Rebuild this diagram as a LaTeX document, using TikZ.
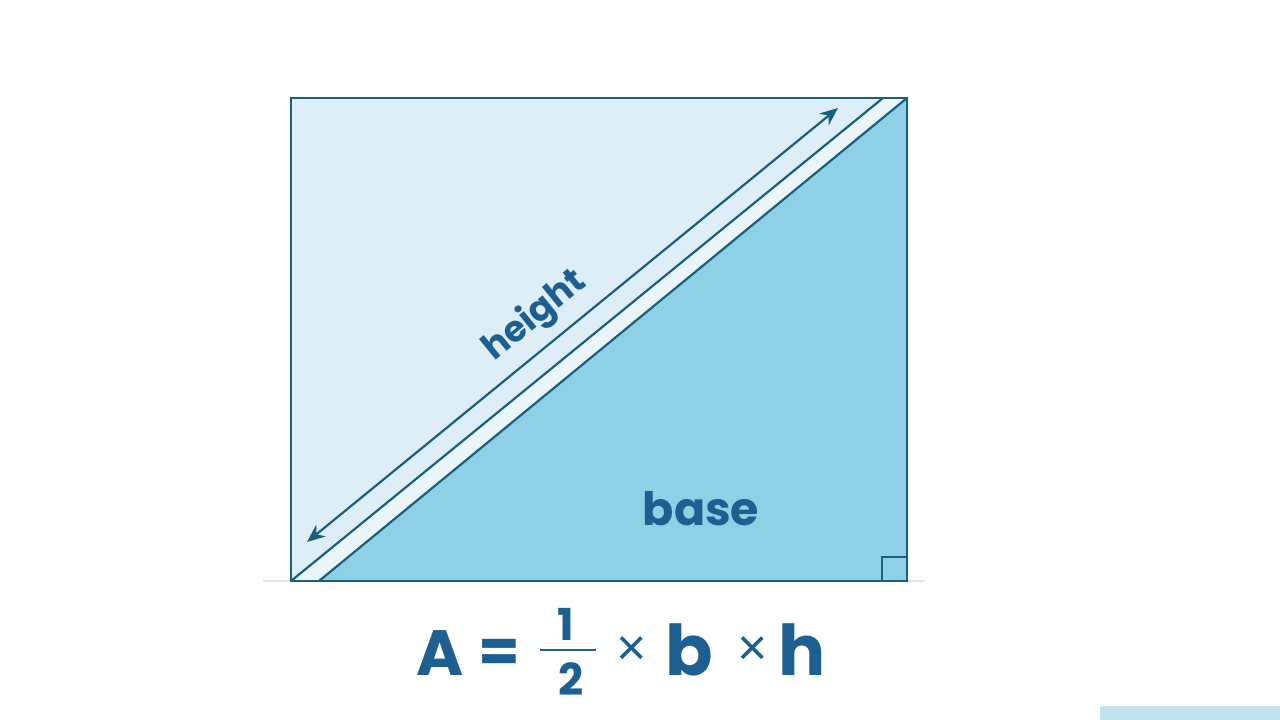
\documentclass[tikz,border=0pt]{standalone}
\usepackage{fontspec}
\setmainfont{Poppins}
\newfontfamily\opfont{Liberation Sans}
\usetikzlibrary{arrows.meta}
\definecolor{lightfill}{HTML}{DDEEF8}
\definecolor{stripfill}{HTML}{EBF6FB}
\definecolor{darkfill}{HTML}{8ED1E7}
\definecolor{edge}{HTML}{1A5F7E}
\definecolor{txt}{HTML}{1E5F92}
\definecolor{groundgrey}{HTML}{E2E4E6}
\definecolor{cornerstrip}{HTML}{C0E4EE}
\tikzset{
  edgeline/.style={draw=edge, line width=2.2pt},
  lbl/.style={text=txt, font=\bfseries\fontsize{#1}{#1}\selectfont, inner sep=0pt},
  opx/.style={text=txt, font=\opfont\fontsize{#1}{#1}\selectfont, inner sep=0pt},
}
\begin{document}
\begin{tikzpicture}[x=1pt,y=-1pt]
\useasboundingbox (0,0) rectangle (1280,720);
\fill[white] (0,0) rectangle (1280,720);
% ground line
\coordinate (G1) at (263,581);
\coordinate (G2) at (925,581);
\draw[groundgrey, line width=1.2pt] (G1) -- (G2);
% rectangle
\coordinate (BL) at (291,581);
\coordinate (TL) at (291,98);
\coordinate (TR) at (907,98);
\coordinate (BR) at (907,581);
\coordinate (D1) at (883,98);
\coordinate (D2) at (319,581);
\fill[lightfill] (BL) rectangle (TR);
\fill[stripfill] (BL) -- (D1) -- (TR) -- (D2) -- cycle;
\fill[darkfill] (D2) -- (TR) -- (BR) -- cycle;
\draw[edgeline] (BL) -- (D1);
\draw[edgeline] (D2) -- (TR);
\draw[edge, line width=1.8pt] (BL) rectangle (TR);
% right angle mark
\coordinate (RA1) at (882,581);
\coordinate (RA2) at (882,557);
\coordinate (RA3) at (907,557);
\draw[edge, line width=1.6pt] (RA1) -- (RA2) -- (RA3);
% height arrow
\coordinate (H1) at (307,542);
\coordinate (H2) at (838,108);
\draw[edge, line width=2.2pt, {Stealth[length=18pt,width=15pt]}-{Stealth[length=18pt,width=15pt]}] (H1) -- (H2);
% labels
\node[lbl=36, rotate=39.2] (height) at (535,316) {height};
\node[lbl=46] (base) at (701,509) {base};
% formula
\node[lbl=64, anchor=base] (A) at (440,675) {A};
\node[lbl=60, anchor=base] (eq) at (499,672) {=};
\node[lbl=44, anchor=base] (one) at (566,640) {1};
\node[lbl=44, anchor=base] (two) at (571,695) {2};
\coordinate (F1) at (540,650);
\coordinate (F2) at (596,650);
\draw[txt, line width=2.6pt] (F1) -- (F2);
\node[opx=52] (x1) at (632,651) {×};
\node[lbl=70, anchor=base] (b) at (689,675) {b};
\node[opx=52] (x2) at (753,651) {×};
\node[lbl=70, anchor=base] (h) at (802,675) {h};
% corner strip
\fill[cornerstrip] (1100,706) rectangle (1280,720);
\end{tikzpicture}
\end{document}
